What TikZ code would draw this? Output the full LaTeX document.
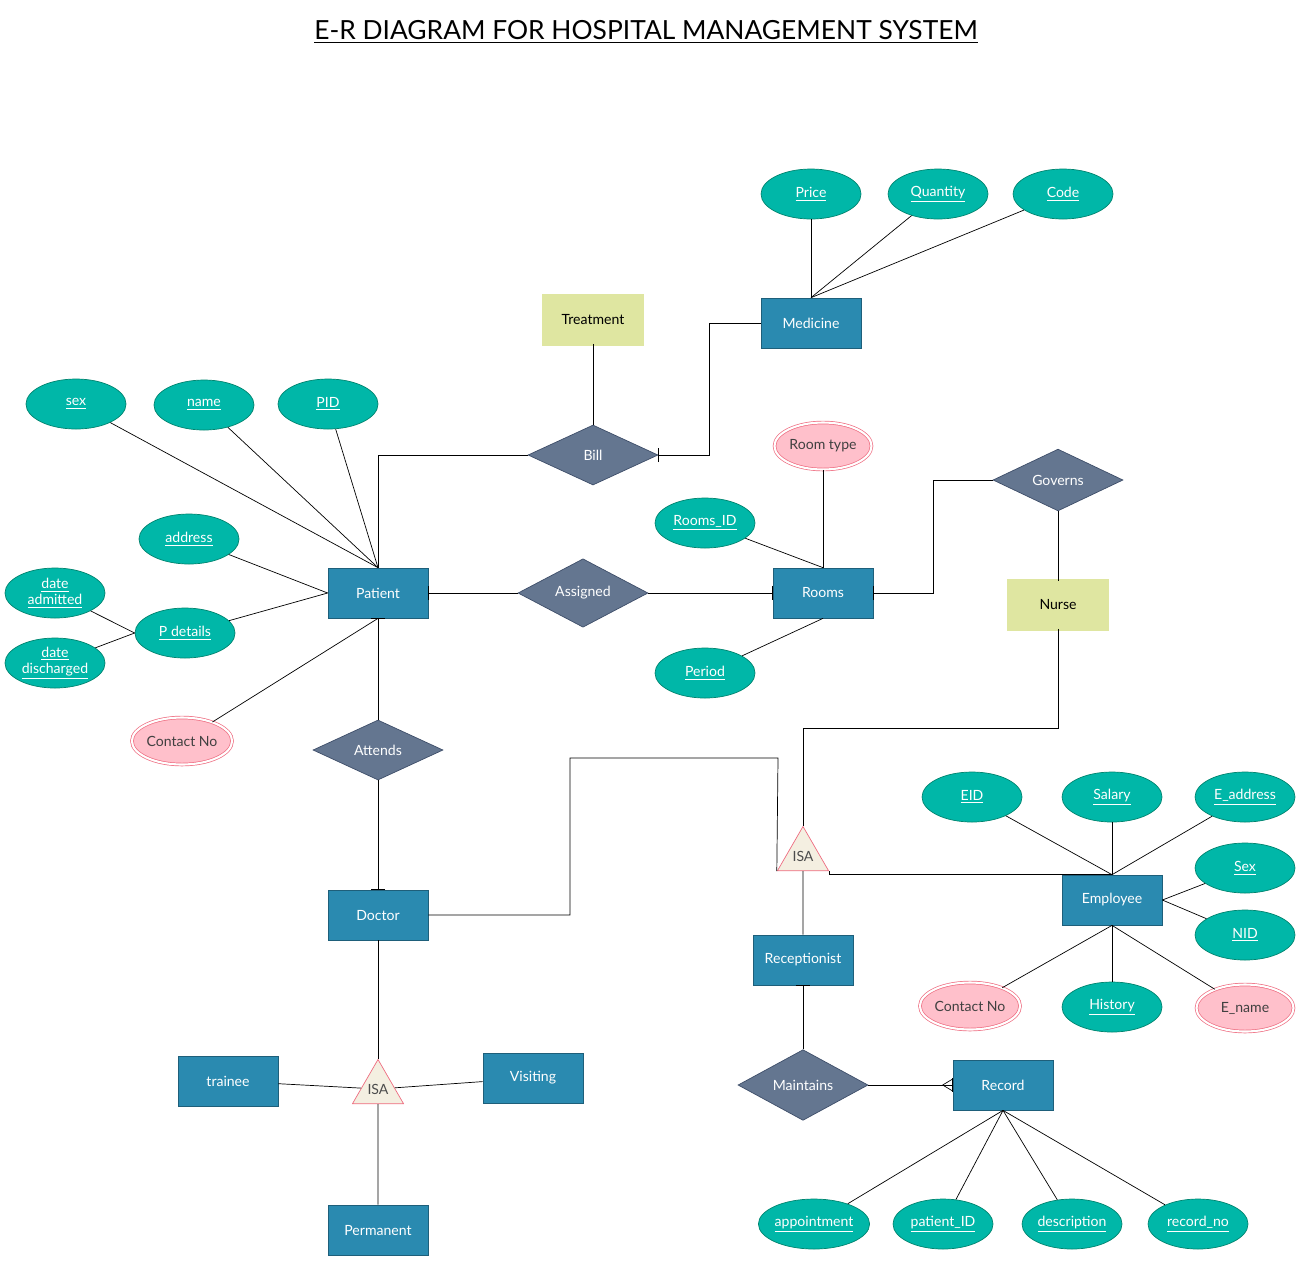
\documentclass[tikz,border=0pt]{standalone}
\usepackage{fontspec}
\setmainfont{Lato}
\usepackage{tikz}
\usetikzlibrary{arrows.meta}
\usetikzlibrary{shapes.geometric}
\usetikzlibrary{calc}

\definecolor{entfill}{HTML}{2A8AB0}
\definecolor{entline}{HTML}{1E5F7A}
\definecolor{relfill}{HTML}{647690}
\definecolor{relline}{HTML}{3E4E69}
\definecolor{attfill}{HTML}{00B7A8}
\definecolor{attline}{HTML}{00846F}
\definecolor{mulfill}{HTML}{FFC0CB}
\definecolor{mulline}{HTML}{EE6C80}
\definecolor{weakfill}{HTML}{DFE6A1}
\definecolor{weakline}{HTML}{CDBE6E}
\definecolor{isafill}{HTML}{F4EFE1}

\newcommand{\ul}[1]{\underline{#1}}

\tikzset{
  every node/.style={font=\fontsize{8}{11}\selectfont},
  ent/.style={draw=entline,fill=entfill,text=white,minimum width=20mm,minimum height=10mm,inner sep=0},
  weak/.style={draw=weakline,fill=weakfill,double=weakfill,double distance=2.5pt,minimum width=19.4mm,minimum height=9.4mm,inner sep=0},
  rel/.style={diamond,draw=relline,fill=relfill,text=white,minimum width=26mm,minimum height=12mm,inner sep=0},
  attr/.style={ellipse,draw=attline,fill=attfill,text=white,minimum width=20mm,minimum height=10mm,inner sep=0,align=center},
  multi/.style={ellipse,draw=mulline,fill=mulfill,double=white,double distance=1.2pt,text=black!75,minimum width=19.4mm,minimum height=9.4mm,inner sep=0},
  isa/.style={regular polygon,regular polygon sides=3,draw=mulline,fill=isafill,text=black!70,minimum size=11.5mm,inner sep=0},
  one/.style={-{Bar[width=8pt]}},
}

\begin{document}
\begin{tikzpicture}[x=0.2mm,y=-0.2mm]
\useasboundingbox (0,0) rectangle (1301,1261);
% title
\node (title) at (646,32) {\fontsize{15}{18}\selectfont\ul{E-R DIAGRAM FOR HOSPITAL MANAGEMENT SYSTEM}};

% entities
\node[ent] (med) at (811,323) {Medicine};
\node[ent] (pat) at (378,593) {Patient};
\node[ent] (room) at (823,593) {Rooms};
\node[ent] (doc) at (378,915) {Doctor};
\node[ent] (emp) at (1112,900) {Employee};
\node[ent] (rec) at (803,960) {Receptionist};
\node[ent] (record) at (1003,1085) {Record};
\node[ent] (trn) at (228,1081) {trainee};
\node[ent] (vis) at (533,1078) {Visiting};
\node[ent] (perm) at (378,1230) {Permanent};
\node[weak] (treat) at (593,320) {Treatment};
\node[weak] (nurse) at (1058,605) {Nurse};

% relationships
\node[rel] (bill) at (593,455) {Bill};
\node[rel] (asg) at (583,593) {Assigned};
\node[rel] (gov) at (1058,480) {Governs};
\node[rel] (att) at (378,750) {Attends};
\node[rel] (mnt) at (803,1085) {Maintains};
\node[isa] (isa1) at (803,856) {ISA};
\node[isa] (isa2) at (378,1089) {ISA};

% attributes
\node[attr] (price) at (811,194) {\ul{Price}};
\node[attr] (qty) at (938,194) {\ul{Quantity}};
\node[attr] (code) at (1063,194) {\ul{Code}};
\node[attr] (sex) at (76,404) {\ul{sex}};
\node[attr] (name) at (204,405) {\ul{name}};
\node[attr] (pid) at (328,404) {\ul{PID}};
\node[attr] (addr) at (189,539) {\ul{address}};
\node[attr] (dadm) at (55,593) {\ul{date}\\[-2pt]\ul{admitted}};
\node[attr] (pdet) at (185,633) {\ul{P details}};
\node[attr] (ddis) at (55,663) {\ul{date}\\[-2pt]\ul{discharged}};
\node[attr] (rid) at (705,523) {\ul{Rooms\_ID}};
\node[attr] (per) at (705,673) {\ul{Period}};
\node[attr] (eid) at (972,797) {\ul{EID}};
\node[attr] (sal) at (1112,797) {\ul{Salary}};
\node[attr] (eadr) at (1245,797) {\ul{E\_address}};
\node[attr] (esex) at (1245,868) {\ul{Sex}};
\node[attr] (nid) at (1245,935) {\ul{NID}};
\node[attr] (hist) at (1112,1007) {\ul{History}};
\node[attr] (appt) at (814,1224) {\ul{appointment}};
\node[attr] (ptid) at (943,1224) {\ul{patient\_ID}};
\node[attr] (desc) at (1072,1224) {\ul{description}};
\node[attr] (rno) at (1198,1224) {\ul{record\_no}};
\node[multi] (rtype) at (823,446) {Room type};
\node[multi] (pcon) at (182,741) {Contact No};
\node[multi] (econ) at (970,1006) {Contact No};
\node[multi] (ename) at (1245,1008) {E\_name};

% attribute links
\draw (price) -- (med.north);
\draw (qty) -- (med.north);
\draw (code) -- (med.north);
\draw (sex) -- (pat.north);
\draw (name) -- (pat.north);
\draw (pid) -- (pat.north);
\draw (addr) -- (pat.west);
\draw (pdet) -- (pat.west);
\draw (pcon) -- (pat.south);
\draw (dadm) -- (pdet.west);
\draw (ddis) -- (pdet.west);
\draw (rtype) -- (room.north);
\draw (rid) -- (room.north);
\draw (per) -- (room.south);
\draw (eid) -- (emp.north);
\draw (sal) -- (emp.north);
\draw (eadr) -- (emp.north);
\draw (esex) -- (emp.east);
\draw (nid) -- (emp.east);
\draw (econ) -- (emp.south);
\draw (hist) -- (emp.south);
\draw (ename) -- (emp.south);
\draw (appt) -- (record.south);
\draw (ptid) -- (record.south);
\draw (desc) -- (record.south);
\draw (rno) -- (record.south);

% relationship links
\draw (treat) -- (bill);
\draw[{Bar[width=8pt]}-] (bill.east) -- (709,455) |- (med.west);
\draw (bill.west) -| (pat.north);
\draw[one] (asg.west) -- (pat.east);
\draw[one] (asg.east) -- (room.west);
\draw[one] (gov.west) -- (933,480) |- (room.east);
\draw (gov) -- (nurse);
\draw (nurse.south) -- (1058,728) -| (isa1.corner 1);
\draw[one] (att) -- (pat);
\draw[one] (att) -- (doc);
\draw (doc.east) -- (570,915) |- (778,758) -- (isa1.corner 2);
\draw (isa1.corner 3) -- (emp.north -| isa1.corner 3) -- (emp.north);
\draw (isa1.south) -- (rec.north);
\draw[one] (mnt) -- (rec);
\draw[one] (mnt.east) -- (record.west);
\draw ($(record.west)+(-10,0)$) -- ($(record.west)+(0,-6)$)
      ($(record.west)+(-10,0)$) -- ($(record.west)+(0,6)$);
\draw (doc) -- (isa2.corner 1);
\draw (isa2) -- (trn);
\draw (isa2) -- (vis);
\draw (isa2) -- (perm);
\end{tikzpicture}
\end{document}
